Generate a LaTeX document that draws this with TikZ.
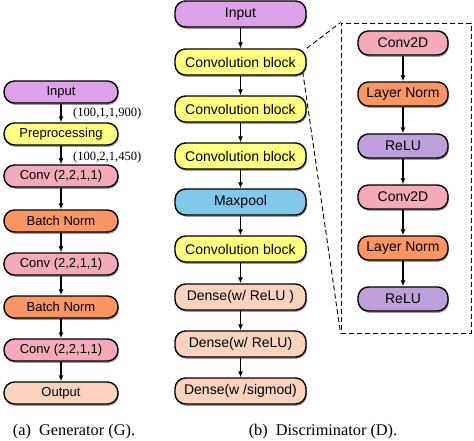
\documentclass[tikz,border=0pt]{standalone}
\usepackage{fontspec}
\setmainfont{Liberation Serif}
\newfontfamily\boxfont{Liberation Sans}
\usetikzlibrary{arrows.meta,shadows,backgrounds,calc}
\definecolor{cinput}{RGB}{222,160,232}
\definecolor{cyellow}{RGB}{255,255,130}
\definecolor{cpink}{RGB}{245,170,185}
\definecolor{corange}{RGB}{250,150,100}
\definecolor{cpeach}{RGB}{250,210,190}
\definecolor{cblue}{RGB}{130,200,235}
\definecolor{crelu}{RGB}{190,160,220}
\tikzset{
  blk/.style={draw=black, line width=1.4pt, rounded corners=10.5pt, inner sep=0pt,
    drop shadow={shadow xshift=0.8pt, shadow yshift=-1.8pt, fill=black, opacity=0.4}},
  gbox/.style={blk, minimum width=114pt, minimum height=22pt, font=\boxfont\fontsize{13}{14}\selectfont},
  dbox/.style={blk, minimum width=131pt, minimum height=26pt, font=\boxfont\fontsize{14}{15}\selectfont},
  rbox/.style={blk, minimum width=90pt, minimum height=24pt, font=\boxfont\fontsize{14}{15}\selectfont},
  arr/.style={-{Latex[length=6pt,width=5pt]}, line width=1.3pt, black},
  dimlbl/.style={anchor=west, inner sep=0pt, font=\fontsize{12.6}{13}\selectfont},
  captxt/.style={inner sep=0pt, font=\fontsize{16.3}{17}\selectfont},
  dsh/.style={draw=black, line width=0.9pt, dash pattern=on 5pt off 3pt}
}
\begin{document}
\begin{tikzpicture}[x=1pt,y=-1pt]
\useasboundingbox (0,0) rectangle (474,440);
% Generator
\node[gbox, fill=cinput] (gin) at (61,92) {Input};
\node[gbox, fill=cyellow] (gpre) at (61,134) {Preprocessing};
\node[gbox, fill=cpink] (gc1) at (61,176) {Conv (2,2,1,1)};
\node[gbox, fill=corange] (gb1) at (61,221) {Batch Norm};
\node[gbox, fill=cpink] (gc2) at (61,264) {Conv (2,2,1,1)};
\node[gbox, fill=corange] (gb2) at (61,307) {Batch Norm};
\node[gbox, fill=cpink] (gc3) at (61,350) {Conv (2,2,1,1)};
\node[gbox, fill=cpeach] (gout) at (61,393) {Output};
\draw[arr] (gin) -- (gpre);
\draw[arr] (gpre) -- (gc1);
\draw[arr] (gc1) -- (gb1);
\draw[arr] (gb1) -- (gc2);
\draw[arr] (gc2) -- (gb2);
\draw[arr] (gb2) -- (gc3);
\draw[arr] (gc3) -- (gout);
\node[dimlbl] (l1) at (73,113) {(100,1,1,900)};
\node[dimlbl] (l2) at (73,157) {(100,2,1,450)};
% Discriminator
\node[dbox, fill=cinput] (din) at (240.5,14) {Input};
\node[dbox, fill=cyellow] (cb1) at (240.5,62) {Convolution block};
\node[dbox, fill=cyellow] (cb2) at (240.5,109) {Convolution block};
\node[dbox, fill=cyellow] (cb3) at (240.5,156) {Convolution block};
\node[dbox, fill=cblue] (mp) at (240.5,202) {Maxpool};
\node[dbox, fill=cyellow] (cb4) at (240.5,249) {Convolution block};
\node[dbox, fill=cpeach] (de1) at (240.5,297) {Dense(w/ ReLU )};
\node[dbox, fill=cpeach] (de2) at (240.5,344) {Dense(w/ ReLU)};
\node[dbox, fill=cpeach] (de3) at (240.5,391) {Dense(w /sigmod)};
\draw[arr] (din) -- (cb1);
\draw[arr] (cb1) -- (cb2);
\draw[arr] (cb2) -- (cb3);
\draw[arr] (cb3) -- (mp);
\draw[arr] (mp) -- (cb4);
\draw[arr] (cb4) -- (de1);
\draw[arr] (de1) -- (de2);
\draw[arr] (de2) -- (de3);
% Detail
\node[dsh, minimum width=130pt, minimum height=310pt, inner sep=0pt] (detail) at (406,178) {};
\begin{scope}[on background layer]
\draw[dsh] (cb1.north east) -- (detail.north west);
\draw[dsh] ($(cb1.south east)+(-4,-4)$) -- (detail.south west);
\end{scope}
\node[rbox, fill=cpink] (r1) at (403,43) {Conv2D};
\node[rbox, fill=corange] (r2) at (403,94) {Layer Norm};
\node[rbox, fill=crelu] (r3) at (403,146) {ReLU};
\node[rbox, fill=cpink] (r4) at (403,197) {Conv2D};
\node[rbox, fill=corange] (r5) at (403,248) {Layer Norm};
\node[rbox, fill=crelu] (r6) at (403,299) {ReLU};
\draw[arr] (r1) -- (r2);
\draw[arr] (r2) -- (r3);
\draw[arr] (r3) -- (r4);
\draw[arr] (r4) -- (r5);
\draw[arr] (r5) -- (r6);
% Captions
\node[captxt] (capa) at (74,432) {(a)\ \ Generator (G).};
\node[captxt] (capb) at (323,432) {(b)\ \ Discriminator (D).};
\end{tikzpicture}
\end{document}
